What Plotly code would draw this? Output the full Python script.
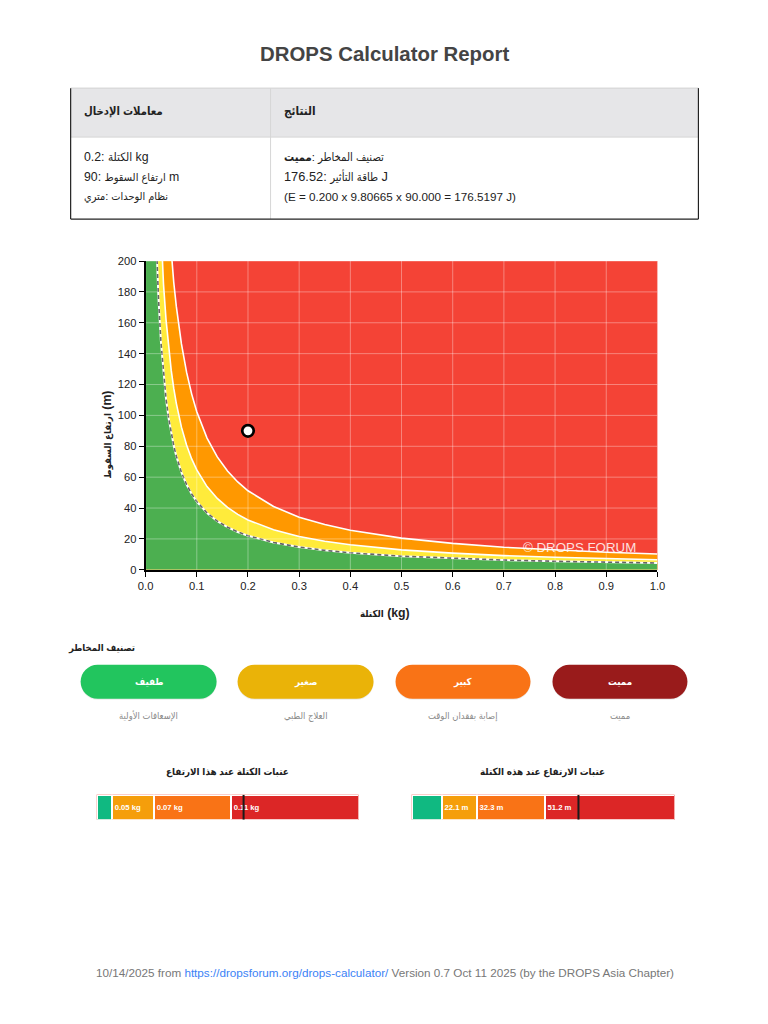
import plotly.graph_objects as go

W, H = 768, 1010
OFF = 8  # page body margin
# measured mapping from page pixels to the photographed picture
SX, BX = 0.9795, -0.5
SY, BY = 0.9888, -2.1
FONT = "Liberation Sans, Arial, DejaVu Sans Condensed, DejaVu Sans, sans-serif"

# ---------------- data ----------------
mass = [0.0, 0.02, 0.025, 0.03, 0.035, 0.04, 0.045, 0.05, 0.055, 0.06, 0.07, 0.08, 0.09,
        0.1, 0.12, 0.14, 0.16, 0.18, 0.2, 0.25, 0.3, 0.35, 0.4, 0.5, 0.6, 0.7, 0.8, 0.9, 1.0]
h_minor = [400, 220.8, 176.6, 147.2, 126.1, 110.4, 98.1, 88.3, 80.3, 73.6, 63.1, 55.2, 49.1,
           44.2, 36.8, 31.5, 27.6, 24.5, 22.1, 17.7, 14.7, 12.6, 11.0, 8.8, 7.4, 6.3, 5.5, 4.9, 4.4]
h_serious = [400, 323.3, 258.6, 215.5, 184.7, 161.6, 143.7, 129.3, 117.5, 107.8, 92.4, 80.8, 71.8,
             64.7, 53.9, 46.2, 40.4, 35.9, 32.3, 25.9, 21.6, 18.5, 16.2, 12.9, 10.8, 9.2, 8.1, 7.2, 6.5]
h_fatal = [400, 511.9, 409.5, 341.3, 292.5, 256.0, 227.5, 204.8, 186.1, 170.6, 146.3, 128.0, 113.8,
           102.4, 85.3, 73.1, 64.0, 56.9, 51.2, 41.0, 34.1, 29.3, 25.6, 20.5, 17.1, 14.6, 12.8, 11.4, 10.2]

x_ticks = [0.0, 0.1, 0.2, 0.3, 0.4, 0.5, 0.6, 0.7, 0.8, 0.9, 1.0]
y_ticks = [0, 20, 40, 60, 80, 100, 120, 140, 160, 180, 200]

point_mass = [0.2]
point_height = [90]

severity_names = ["طفيف", "صغير", "كبير", "مميت"]
severity_desc = ["الإسعافات الأولية", "العلاج الطبي", "إصابة بفقدان الوقت", "مميت"]
severity_colors = ["#22C55E", "#EAB308", "#F97316", "#991B1B"]

mass_bar_labels = ["", "0.05 kg", "0.07 kg", "0.11 kg"]
mass_bar_widths = [15, 42, 77, 128]
mass_bar_marker = 147
height_bar_labels = ["", "22.1 m", "32.3 m", "51.2 m"]
height_bar_widths = [30, 35, 68, 130]
height_bar_marker = 167
bar_colors = ["#10B981", "#F59E0B", "#F97316", "#DC2626"]


def px(x):
    return ((x - BX) / SX - OFF) / W


def py(y):
    return 1 - ((y - BY) / SY - OFF) / H


def fs(s):
    return round(s / SX, 1)


def ar(s, size):
    """Arabic run, set in its own size as in the reference."""
    return f"<span style='font-size:{fs(size)}px'>{s}</span>"


fig = go.Figure()

# ---------------- main chart ----------------
fig.add_trace(go.Scatter(x=mass, y=h_fatal, mode="lines", fill="tozeroy", fillcolor="#FF9800",
                         line=dict(color="white", width=1.6), hoverinfo="skip", showlegend=False))
fig.add_trace(go.Scatter(x=mass, y=h_serious, mode="lines", fill="tozeroy", fillcolor="#FFEB3B",
                         line=dict(color="white", width=1.6), hoverinfo="skip", showlegend=False))
fig.add_trace(go.Scatter(x=mass, y=h_minor, mode="lines", fill="tozeroy", fillcolor="#4CAF50",
                         line=dict(color="white", width=2), hoverinfo="skip", showlegend=False))
fig.add_trace(go.Scatter(x=mass, y=h_minor, mode="lines",
                         line=dict(color="#666666", width=1.6, dash="4px,3px"),
                         hoverinfo="skip", showlegend=False))

# grid lines drawn over the zones
gx, gy = [], []
for t in x_ticks:
    gx += [t, t, None]
    gy += [y_ticks[0], y_ticks[-1], None]
for t in y_ticks:
    gx += [x_ticks[0], x_ticks[-1], None]
    gy += [t, t, None]
fig.add_trace(go.Scatter(x=gx, y=gy, mode="lines", line=dict(color="rgba(255,255,255,0.35)", width=1),
                         hoverinfo="skip", showlegend=False))

fig.add_trace(go.Scatter(x=point_mass, y=point_height, mode="markers",
                         marker=dict(size=11.5, color="white", line=dict(color="black", width=2.7)),
                         showlegend=False))

# ---------------- threshold bars ----------------
for lbl, wdt, col in zip(mass_bar_labels, mass_bar_widths, bar_colors):
    fig.add_trace(go.Bar(x=[wdt], y=[0], orientation="h", xaxis="x3", yaxis="y3",
                         marker=dict(color=col, line=dict(color="white", width=2)),
                         text=[lbl], texttemplate="<b>%{text}</b>", textposition="inside",
                         insidetextanchor="start", textangle=0,
                         textfont=dict(color="white", size=fs(7.5), family=FONT),
                         hoverinfo="skip", showlegend=False))
for lbl, wdt, col in zip(height_bar_labels, height_bar_widths, bar_colors):
    fig.add_trace(go.Bar(x=[wdt], y=[0], orientation="h", xaxis="x4", yaxis="y4",
                         marker=dict(color=col, line=dict(color="white", width=2)),
                         text=[lbl], texttemplate="<b>%{text}</b>", textposition="inside",
                         insidetextanchor="start", textangle=0,
                         textfont=dict(color="white", size=fs(7.5), family=FONT),
                         hoverinfo="skip", showlegend=False))

shapes = []
annotations = []

# marker lines on bars
shapes.append(dict(type="line", xref="x3", yref="y3", x0=mass_bar_marker, x1=mass_bar_marker,
                   y0=-0.5, y1=0.5, line=dict(color="#1a1a1a", width=2)))
shapes.append(dict(type="line", xref="x4", yref="y4", x0=height_bar_marker, x1=height_bar_marker,
                   y0=-0.5, y1=0.5, line=dict(color="#1a1a1a", width=2)))

# ---------------- table ----------------
T_L, T_R, T_T, T_M, T_B, T_DIV = 70, 698, 88, 137, 219, 270
shapes.append(dict(type="rect", xref="paper", yref="paper", x0=px(T_L), x1=px(T_R), y0=py(T_M), y1=py(T_T),
                   fillcolor="#E6E6E8", line=dict(width=0), layer="below"))
shapes.append(dict(type="line", xref="paper", yref="paper", x0=px(T_L), x1=px(T_R), y0=py(T_T), y1=py(T_T),
                   line=dict(color="#cfcfcf", width=1)))
shapes.append(dict(type="line", xref="paper", yref="paper", x0=px(T_L), x1=px(T_R), y0=py(T_M), y1=py(T_M),
                   line=dict(color="#d6d6d6", width=1)))
shapes.append(dict(type="line", xref="paper", yref="paper", x0=px(T_DIV), x1=px(T_DIV), y0=py(T_B), y1=py(T_T),
                   line=dict(color="#d6d6d6", width=1)))
for (a, b, c, d) in [(T_L, T_L, T_T, T_B), (T_R, T_R, T_T, T_B), (T_L, T_R, T_B, T_B)]:
    shapes.append(dict(type="line", xref="paper", yref="paper", x0=px(a), x1=px(b), y0=py(c), y1=py(d),
                       line=dict(color="#222222", width=1.2)))

PAD = 3  # annotation inner padding, compensated for left-anchored text


def text(x, y, s, size=12, color="#222", bold=False, anchor="left", **kw):
    if anchor == "left":
        x -= PAD
    annotations.append(dict(x=px(x), y=py(y), xref="paper", yref="paper", text=(f"<b>{s}</b>" if bold else s),
                            showarrow=False, xanchor=anchor, yanchor="middle",
                            font=dict(family=FONT, size=fs(size), color=color), **kw))


text(384, 54, "DROPS Calculator Report", size=20, color="#444444", bold=True, anchor="center")

text(84, 111, ar("معاملات الإدخال", 11), size=12.5, bold=True)
text(284, 111, ar("النتائج", 11.5), size=12.5, bold=True)
text(84, 157, "0.2: " + ar("الكتلة", 11.5) + " kg", size=12)
text(84, 177, "90: " + ar("ارتفاع السقوط", 10.8) + " m", size=12)
text(84, 196, ar("نظام الوحدات :متري", 10.7), size=11)
text(284, 158, ar("تصنيف المخاطر :<b>مميت</b>", 11), size=11)
text(284, 177, "176.52: " + ar("طاقة التأثير", 11) + " J", size=12.5)
text(284, 196, "(E = 0.200 x 9.80665 x 90.000 = 176.5197 J)", size=11.5)

# axis titles
text(384, 613, ar("الكتلة", 9.5) + " (kg)", size=12, bold=True, anchor="center")
annotations.append(dict(x=px(106), y=py(435), xref="paper", yref="paper",
                        text="<b>" + ar("ارتفاع السقوط", 9.5) + " (m)</b>",
                        showarrow=False, textangle=-90, xanchor="center", yanchor="middle",
                        font=dict(family=FONT, size=fs(12), color="#222")))
# watermark
text(579, 548, "© DROPS FORUM", size=13, color="rgba(255,255,255,0.85)", anchor="center")

# ---------------- severity pills ----------------
text(68, 648, ar("تصنيف المخاطر", 9.3), size=12, bold=True)
pill_x = [(80, 216), (237, 373), (395, 530), (552, 687)]
PY0, PY1 = 665, 699
k = 0.5523


def pill_path(x0, y0, x1, y1):
    r = (y1 - y0) / 2
    cy = (y0 + y1) / 2
    pts = [
        ("M", [(x0 + r, y0)]),
        ("L", [(x1 - r, y0)]),
        ("C", [(x1 - r + k * r, y0), (x1, cy - k * r), (x1, cy)]),
        ("C", [(x1, cy + k * r), (x1 - r + k * r, y1), (x1 - r, y1)]),
        ("L", [(x0 + r, y1)]),
        ("C", [(x0 + r - k * r, y1), (x0, cy + k * r), (x0, cy)]),
        ("C", [(x0, cy - k * r), (x0 + r - k * r, y0), (x0 + r, y0)]),
    ]
    s = ""
    for cmd, plist in pts:
        s += cmd + " " + " ".join(f"{px(a):.5f},{py(b):.5f}" for a, b in plist) + " "
    return s + "Z"


for (x0, x1), name, desc, col in zip(pill_x, severity_names, severity_desc, severity_colors):
    shapes.append(dict(type="path", xref="paper", yref="paper", path=pill_path(x0, PY0 + 1, x1, PY1 + 1),
                       fillcolor="rgba(0,0,0,0.08)", line=dict(width=0), layer="below"))
    shapes.append(dict(type="path", xref="paper", yref="paper", path=pill_path(x0, PY0, x1, PY1),
                       fillcolor=col, line=dict(width=0), layer="below"))
    text((x0 + x1) / 2, 682, name, size=9.5, color="white", bold=True, anchor="center")
    text((x0 + x1) / 2, 716, desc, size=9.2, color="#8a8a8a", anchor="center")

# bar titles
text(227, 772, "عتبات الكتلة عند هذا الارتفاع", size=9.6, bold=True, anchor="center")
text(542, 772, "عتبات الارتفاع عند هذه الكتلة", size=9.6, bold=True, anchor="center")

# footer
text(384, 973, "10/14/2025 from <span style='color:#3B82F6'>https://dropsforum.org/drops-calculator/</span>"
               " Version 0.7 Oct 11 2025 (by the DROPS Asia Chapter)", size=11.5, color="#777777", anchor="center")

axis_font = dict(family=FONT, size=fs(11), color="#222")
fig.update_layout(
    width=W, height=H, margin=dict(l=0, r=0, t=0, b=0),
    paper_bgcolor="white", plot_bgcolor="#F44336",
    barmode="stack", bargap=0,
    showlegend=False,
    xaxis=dict(domain=[px(145), px(657)], range=[0, 1], anchor="y", tickvals=x_ticks, tickformat=".1f",
               showgrid=False, zeroline=False, showline=True, linecolor="black", linewidth=2,
               ticks="outside", ticklen=5, tickcolor="black", tickfont=axis_font),
    yaxis=dict(domain=[py(570), py(261)], range=[0, 200], anchor="x", tickvals=y_ticks,
               showgrid=False, zeroline=False, showline=True, linecolor="black", linewidth=2,
               ticks="outside", ticklen=5, tickcolor="black", tickfont=axis_font),
    xaxis3=dict(domain=[px(96), px(358)], range=[0, sum(mass_bar_widths)], anchor="y3", visible=False),
    yaxis3=dict(domain=[py(820), py(795)], range=[-0.5, 0.5], anchor="x3", visible=False),
    xaxis4=dict(domain=[px(411), px(674)], range=[0, sum(height_bar_widths)], anchor="y4", visible=False),
    yaxis4=dict(domain=[py(820), py(795)], range=[-0.5, 0.5], anchor="x4", visible=False),
    shapes=shapes, annotations=annotations,
)

fig.write_html("out.html")
